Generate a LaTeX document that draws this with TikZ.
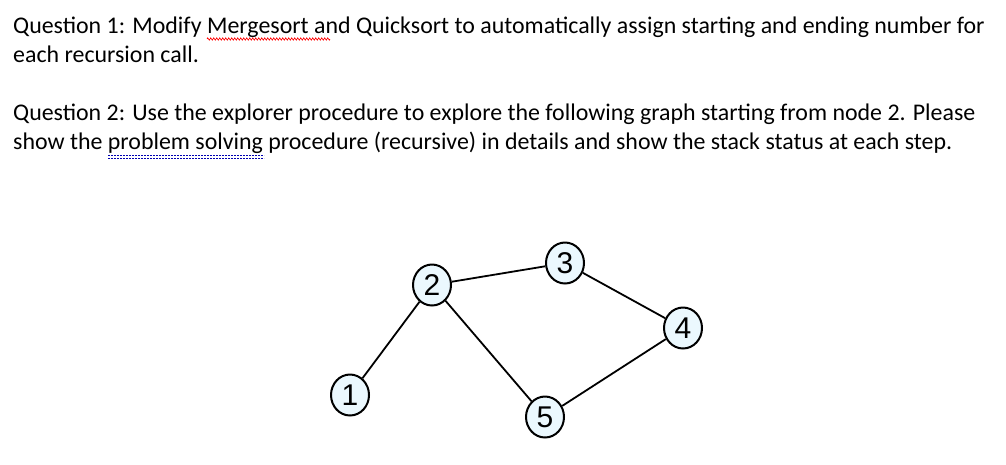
\documentclass[tikz,border=0pt]{standalone}
\usepackage{fontspec}
\setmainfont{Carlito}
\setsansfont{Liberation Sans}
\usetikzlibrary{decorations.pathmorphing,shapes.geometric}
\begin{document}
\begin{tikzpicture}[x=1pt,y=-1pt,
  txt/.style={anchor=base west,inner sep=0,font=\fontsize{23.9}{28}\selectfont},
  vert/.style={draw,line width=2pt,ellipse,minimum width=38pt,minimum height=41pt,inner sep=0,fill=cyan!8,font=\sffamily\fontsize{30}{32}\selectfont},
  edge/.style={line width=1.8pt}]
\useasboundingbox (0,0) rectangle (1006,464);
\node[txt] (l1) at (13,33) {Question 1: Modify Mergesort and Quicksort to automatically assign starting and ending number for};
\node[txt] (l2) at (13,62) {each recursion call.};
\node[txt] (l3) at (13,120) {Question 2: Use the explorer procedure to explore the following graph starting from node 2. Please};
\node[txt] (l4) at (13,149) {show the problem solving procedure (recursive) in details and show the stack status at each step.};
\coordinate (sq1) at (207,39); \coordinate (sq2) at (330,39);
\draw[red,line width=0.6pt,decorate,decoration={zigzag,amplitude=1.2pt,segment length=3pt}] (sq1) -- (sq2);
\coordinate (u1) at (108,155); \coordinate (u2) at (264,155);
\coordinate (u3) at (108,158); \coordinate (u4) at (264,158);
\draw[blue!70!black,line width=0.6pt,dash pattern=on 2pt off 1pt] (u1) -- (u2) (u3) -- (u4);
\node[vert] (n1) at (350,395) {1};
\node[vert] (n2) at (432,285) {2};
\node[vert] (n3) at (565,263) {3};
\node[vert] (n4) at (683,328) {4};
\node[vert] (n5) at (545,417) {5};
\draw[edge] (n1) -- (n2) (n2) -- (n3) (n2) -- (n5) (n3) -- (n4) (n4) -- (n5);
\end{tikzpicture}
\end{document}
